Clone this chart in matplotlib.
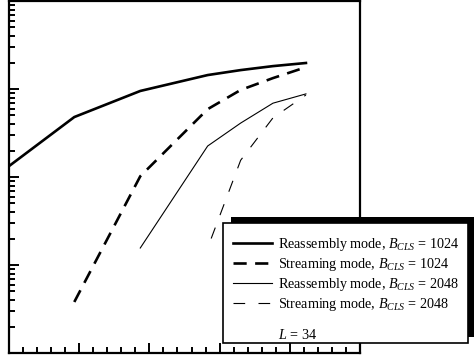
import matplotlib
matplotlib.use("Agg")
import matplotlib.pyplot as plt
from matplotlib.patches import Rectangle
from matplotlib.ticker import LogLocator, MultipleLocator, NullFormatter

plt.rcParams["font.family"] = ["Liberation Serif", "DejaVu Serif"]
plt.rcParams["mathtext.fontset"] = "custom"
plt.rcParams["mathtext.rm"] = "Liberation Serif"
plt.rcParams["mathtext.it"] = "Liberation Serif:italic"

# data (x in axis units, y on log scale)
x_re1024 = [0, 9.3, 18.7, 28.3, 33.0, 37.6, 42.3]
y_re1024 = [133, 480, 950, 1440, 1640, 1820, 1975]
x_st1024 = [9.3, 18.7, 28.3, 33.0, 37.6, 42.3]
y_st1024 = [3.8, 102, 590, 975, 1330, 1770]
x_re2048 = [18.7, 28.3, 33.0, 37.6, 42.3]
y_re2048 = [15.6, 225, 410, 690, 880]
x_st2048 = [28.8, 33.0, 37.6, 42.3]
y_st2048 = [20, 155, 470, 855]

labels = [
    "Reassembly mode, $B_{CLS}$ = 1024",
    "Streaming mode, $B_{CLS}$ = 1024",
    "Reassembly mode, $B_{CLS}$ = 2048",
    "Streaming mode, $B_{CLS}$ = 2048",
]
note = "$L$ = 34"

W, H = 474, 364
fig = plt.figure(figsize=(W / 100, H / 100), dpi=100)
ax = fig.add_axes([9 / W, 11 / H, 351 / W, 352 / H])

ax.plot(x_re1024, y_re1024, color="black", lw=1.9, label=labels[0])
ax.plot(x_st1024, y_st1024, color="black", lw=1.9, dashes=(5.0, 3.2), label=labels[1])
ax.plot(x_re2048, y_re2048, color="black", lw=0.8, label=labels[2])
ax.plot(x_st2048, y_st2048, color="black", lw=0.8, dashes=(10.5, 12), label=labels[3])

ax.set_yscale("log")
ax.set_xlim(0, 50)
ax.set_ylim(1, 10000)
ax.xaxis.set_major_locator(MultipleLocator(10))
ax.xaxis.set_minor_locator(MultipleLocator(2))
ax.yaxis.set_major_locator(LogLocator(base=10))
ax.yaxis.set_minor_locator(LogLocator(base=10, subs=range(2, 10)))
ax.xaxis.set_major_formatter(NullFormatter())
ax.yaxis.set_major_formatter(NullFormatter())
ax.yaxis.set_minor_formatter(NullFormatter())
ax.tick_params(which="both", direction="in", width=1.4, top=False, right=False)
ax.tick_params(which="major", length=7)
ax.tick_params(which="minor", length=4)
for s in ax.spines.values():
    s.set_linewidth(1.6)

# legend box with a shadow thrown up and to the right
box = Rectangle((223, 21), 245, 120, transform=None, facecolor="white",
                edgecolor="black", lw=1.2, zorder=4.95, clip_on=False)
shadow = Rectangle((231, 27), 245, 120, transform=None, facecolor="black",
                   edgecolor="none", zorder=4.9, clip_on=False)
ax.add_artist(shadow)
ax.add_artist(box)

leg = ax.legend(loc="upper left", bbox_to_anchor=(233 / W, (H - 236) / H),
                bbox_transform=fig.transFigure, frameon=False,
                borderaxespad=0, borderpad=0, fontsize=10.2, handlelength=2.75,
                handletextpad=0.4, labelspacing=0.22)
leg.set_zorder(5)
fig.text(278 / W, (H - 335) / H, note, fontsize=10.2, va="center", ha="left")

fig.savefig("out.png", dpi=100)
